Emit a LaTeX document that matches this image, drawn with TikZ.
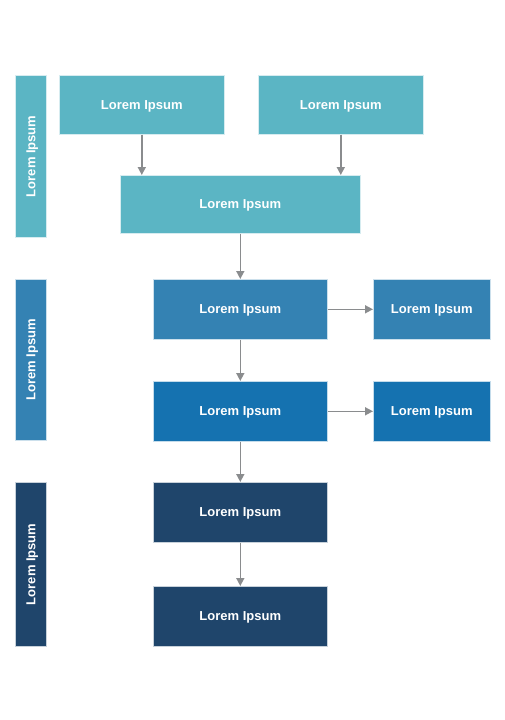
\documentclass[tikz,border=0pt]{standalone}
\usepackage{fontspec}
\setmainfont{Liberation Sans}
\usetikzlibrary{arrows.meta}
\definecolor{cA}{HTML}{5BB5C4}
\definecolor{cB}{HTML}{3482B3}
\definecolor{cC}{HTML}{1572B0}
\definecolor{cD}{HTML}{1F456B}
\definecolor{arr}{HTML}{8A8C8E}
\begin{document}
\begin{tikzpicture}[x=1pt,y=-1pt,
  lbl/.style={text=white, font=\bfseries\fontsize{13}{15}\selectfont, text depth=0pt},
  box/.style={draw=white!75!#1, line width=0.6pt, fill=#1, lbl, inner sep=0pt, anchor=north west},
  conn/.style={draw=arr, line width=1.6pt, -{Triangle[length=8pt,width=8pt]}}]
\useasboundingbox (0,0) rectangle (504,720);
% side bars
\node[box=cA, minimum width=31pt, minimum height=162pt] (s1) at (15,75) {};
\node[rotate=90, lbl] (t1) at (s1.center) {Lorem Ipsum};
\node[box=cB, minimum width=31pt, minimum height=161pt] (s2) at (15,279) {};
\node[rotate=90, lbl] (t2) at (s2.center) {Lorem Ipsum};
\node[box=cD, minimum width=31pt, minimum height=164pt] (s3) at (15,482) {};
\node[rotate=90, lbl] (t3) at (s3.center) {Lorem Ipsum};
% boxes
\node[box=cA, minimum width=165pt, minimum height=59pt] (a) at (59,75) {Lorem Ipsum};
\node[box=cA, minimum width=165pt, minimum height=59pt] (b) at (258,75) {Lorem Ipsum};
\node[box=cA, minimum width=240pt, minimum height=58pt] (c) at (120,175) {Lorem Ipsum};
\node[box=cB, minimum width=174pt, minimum height=60pt] (d) at (153,279) {Lorem Ipsum};
\node[box=cB, minimum width=117pt, minimum height=60pt] (e) at (373,279) {Lorem Ipsum};
\node[box=cC, minimum width=174pt, minimum height=60pt] (f) at (153,381) {Lorem Ipsum};
\node[box=cC, minimum width=117pt, minimum height=60pt] (g) at (373,381) {Lorem Ipsum};
\node[box=cD, minimum width=174pt, minimum height=60pt] (h) at (153,482) {Lorem Ipsum};
\node[box=cD, minimum width=174pt, minimum height=60pt] (i) at (153,586) {Lorem Ipsum};
% connectors
\draw[conn] (a.south) -- (a.south |- c.north);
\draw[conn] (b.south) -- (b.south |- c.north);
\draw[conn] (c.south) -- (d.north);
\draw[conn] (d.east) -- (e.west);
\draw[conn] (d.south) -- (f.north);
\draw[conn] (f.east) -- (g.west);
\draw[conn] (f.south) -- (h.north);
\draw[conn] (h.south) -- (i.north);
\end{tikzpicture}
\end{document}
